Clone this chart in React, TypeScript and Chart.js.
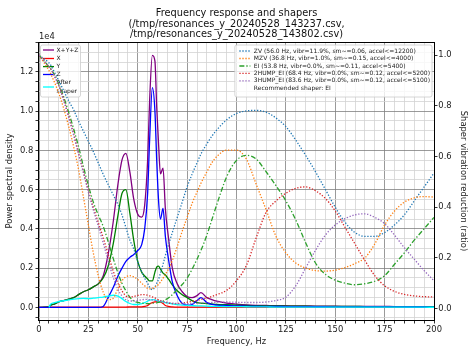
import React, { useEffect, useRef } from 'react';
import { Chart, registerables } from 'chart.js';

Chart.register(...registerables);

const FONT = '"DejaVu Sans", "Liberation Sans", sans-serif';

const titleLines = [
  'Frequency response and shapers',
  '(/tmp/resonances_y_20240528_143237.csv,',
  '/tmp/resonances_y_20240528_143802.csv)',
];

// Power spectral density values are plotted in units of 1e4 (matplotlib offset text "1e4")
const PSD_UNIT = 1e4;

const freqs = [0, 5, 6, 8, 10, 12.5, 15, 17.5, 20, 22.5, 25, 27.5, 30, 32.5, 35, 37.5, 40, 42, 44, 46,
  48, 50, 52, 53.5, 55, 56, 57.4, 58.7, 59.6, 60.5, 61.5, 62.8, 64, 65.5, 67.5, 70, 72.5, 75, 77.5, 80,
  82, 85, 87.5, 90, 95, 100, 105, 110, 115, 120, 125, 130, 135, 140, 145, 150, 155, 160, 165, 170,
  175, 180, 185, 190, 195, 200];

const psdSum = [0, 30, 120, 180, 280, 350, 420, 500, 650, 800, 900, 1050, 1200, 1600, 2700, 4300, 6300, 7500, 7850, 6900,
  5500, 4750, 4600, 5200, 7500, 10500, 12840, 12550, 10200, 8400, 6800, 7100, 5000, 3600, 2000, 1200, 800, 550, 500, 600,
  750, 500, 400, 320, 220, 170, 130, 110, 100, 90, 85, 80, 75, 70, 65, 60, 58, 55, 52, 50,
  48, 46, 44, 42, 40, 38];

const psdX = [0, 20, 20, 20, 20, 20, 20, 20, 20, 20, 20, 20, 20, 20, 20, 20, 20, 20, 20, 25,
  25, 30, 30, 50, 100, 180, 250, 280, 300, 300, 280, 200, 100, 50, 30, 20, 20, 20, 20, 20,
  20, 20, 20, 20, 20, 20, 20, 20, 20, 20, 20, 20, 20, 20, 20, 20, 20, 20, 20, 20,
  20, 20, 20, 20, 20, 20];

const psdY = [0, 30, 120, 180, 280, 350, 420, 500, 650, 800, 900, 1050, 1200, 1500, 2100, 3200, 4700, 5800, 6000, 4800,
  3400, 2350, 1800, 1600, 1450, 1350, 1350, 1800, 2050, 2100, 1950, 1750, 1650, 1450, 1150, 850, 650, 500, 350, 250,
  220, 200, 180, 160, 140, 120, 100, 90, 80, 75, 70, 65, 60, 58, 55, 52, 50, 48, 46, 44,
  42, 40, 38, 36, 35, 34];

const psdZ = [0, 0, 0, 0, 0, 0, 0, 0, 0, 0, 0, 0, 0, 50, 500, 1000, 1600, 2000, 2350, 2550,
  2700, 2900, 3200, 4000, 5800, 8500, 11200, 10000, 7500, 5500, 4500, 5050, 3600, 2500, 1300, 600, 200, 120, 150, 350,
  500, 250, 150, 120, 100, 80, 70, 60, 55, 50, 45, 40, 38, 36, 34, 32, 30, 28, 27, 26,
  25, 24, 23, 22, 21, 20];

const afterShaper = [null, 0, 180, 240, 300, 340, 380, 420, 450, 460, 450, 470, 500, 530, 580, 620, 580, 450, 300, 200,
  150, 150, 200, 250, 320, 370, 400, 380, 350, 320, 300, 280, 250, 220, 180, 140, 120, 100, 90, 80,
  75, 65, 55, 50, 45, 40, 35, 30, 25, 20, 20, 18, 18, 16, 16, 15, 15, 14, 14, 13,
  13, 12, 12, 11, 11, 10];

const zv = [1.0, 0.97, 0.96, 0.93, 0.9, 0.86, 0.82, 0.785, 0.74, 0.70, 0.66, 0.62, 0.575, 0.53, 0.49, 0.45, 0.41, 0.37, 0.32, 0.27,
  0.235, 0.185, 0.145, 0.12, 0.10, 0.085, 0.075, 0.085, 0.10, 0.115, 0.14, 0.175, 0.21, 0.25, 0.30, 0.36, 0.42, 0.48, 0.53, 0.575,
  0.61, 0.65, 0.68, 0.705, 0.745, 0.77, 0.78, 0.782, 0.775, 0.752, 0.718, 0.665, 0.605, 0.54, 0.47, 0.40, 0.34, 0.30, 0.285, 0.285,
  0.30, 0.33, 0.37, 0.425, 0.48, 0.535];

const mzv = [1.0, 0.94, 0.925, 0.89, 0.85, 0.79, 0.72, 0.64, 0.55, 0.44, 0.33, 0.22, 0.13, 0.065, 0.035, 0.04, 0.08, 0.11, 0.125, 0.13,
  0.125, 0.115, 0.10, 0.09, 0.08, 0.078, 0.08, 0.085, 0.09, 0.095, 0.105, 0.12, 0.135, 0.155, 0.19, 0.245, 0.305, 0.36, 0.415, 0.46,
  0.495, 0.54, 0.575, 0.60, 0.625, 0.625, 0.59, 0.49, 0.39, 0.285, 0.22, 0.18, 0.16, 0.15, 0.148, 0.152, 0.162, 0.178, 0.20, 0.255,
  0.33, 0.385, 0.42, 0.437, 0.442, 0.44];

const ei = [1.0, 0.955, 0.945, 0.92, 0.885, 0.835, 0.775, 0.71, 0.64, 0.56, 0.485, 0.42, 0.37, 0.325, 0.265, 0.2, 0.14, 0.1, 0.07, 0.045,
  0.03, 0.025, 0.022, 0.02, 0.02, 0.02, 0.021, 0.022, 0.023, 0.025, 0.027, 0.03, 0.035, 0.042, 0.055, 0.075, 0.095, 0.12, 0.155, 0.195,
  0.23, 0.29, 0.35, 0.41, 0.52, 0.585, 0.605, 0.59, 0.54, 0.485, 0.425, 0.35, 0.26, 0.18, 0.135, 0.112, 0.1, 0.094, 0.098, 0.108,
  0.13, 0.175, 0.22, 0.27, 0.315, 0.36];

const hump2 = [1.0, 0.955, 0.945, 0.915, 0.88, 0.825, 0.76, 0.69, 0.615, 0.54, 0.465, 0.4, 0.34, 0.28, 0.215, 0.15, 0.1, 0.07, 0.05, 0.045,
  0.048, 0.052, 0.055, 0.055, 0.053, 0.05, 0.046, 0.042, 0.038, 0.035, 0.032, 0.028, 0.025, 0.022, 0.02, 0.02, 0.022, 0.025, 0.028, 0.032,
  0.036, 0.042, 0.048, 0.055, 0.072, 0.11, 0.17, 0.28, 0.38, 0.425, 0.455, 0.475, 0.48, 0.465, 0.435, 0.385, 0.32, 0.255, 0.19, 0.13,
  0.09, 0.068, 0.056, 0.05, 0.047, 0.046];

const hump3 = [1.0, 0.955, 0.945, 0.915, 0.88, 0.82, 0.755, 0.685, 0.61, 0.535, 0.46, 0.39, 0.325, 0.26, 0.19, 0.125, 0.075, 0.05, 0.035, 0.03,
  0.03, 0.032, 0.035, 0.036, 0.036, 0.035, 0.034, 0.033, 0.032, 0.031, 0.03, 0.028, 0.026, 0.024, 0.022, 0.02, 0.02, 0.02, 0.02, 0.021,
  0.022, 0.023, 0.024, 0.025, 0.026, 0.025, 0.024, 0.024, 0.026, 0.032, 0.045, 0.09, 0.16, 0.23, 0.29, 0.33, 0.355, 0.37, 0.374, 0.36,
  0.335, 0.29, 0.24, 0.195, 0.15, 0.11];

const psdLabels = ['X+Y+Z', 'X', 'Y', 'Z', 'After\nshaper'];
const psdColors = ['purple', 'red', 'green', 'blue', 'cyan'];
const shaperLabels = [
  'ZV (56.0 Hz, vibr=11.9%, sm~=0.06, accel<=12200)',
  'MZV (36.8 Hz, vibr=1.0%, sm~=0.15, accel<=4000)',
  'EI (53.8 Hz, vibr=0.0%, sm~=0.11, accel<=5400)',
  '2HUMP_EI (68.4 Hz, vibr=0.0%, sm~=0.12, accel<=5200)',
  '3HUMP_EI (83.6 Hz, vibr=0.0%, sm~=0.12, accel<=5100)',
];
const shaperColors = ['#1f77b4', '#ff7f0e', '#2ca02c', '#d62728', '#9467bd'];
const recommendedText = 'Recommended shaper: EI';
const offsetText = '1e4';

const DOT = [1.3, 1.7];
const DASHDOT = [5, 2, 1.3, 2];

const toPts = (ys: (number | null)[], unit = 1) =>
  freqs.map((f, i) => ({ x: f, y: ys[i] === null ? null : (ys[i] as number) / unit }));

const LEG_FONT = '6px ' + FONT;

function drawBox(ctx: CanvasRenderingContext2D, x: number, y: number, w: number, h: number) {
  ctx.save();
  ctx.beginPath();
  (ctx as any).roundRect(x, y, w, h, 2);
  ctx.fillStyle = 'rgba(255,255,255,0.8)';
  ctx.fill();
  ctx.strokeStyle = '#cccccc';
  ctx.lineWidth = 0.8;
  ctx.stroke();
  ctx.restore();
}

function drawHandle(ctx: CanvasRenderingContext2D, x1: number, x2: number, y: number, color: string, dash: number[]) {
  ctx.save();
  ctx.beginPath();
  ctx.setLineDash(dash);
  ctx.strokeStyle = color;
  ctx.lineWidth = 1.3;
  ctx.moveTo(x1, y);
  ctx.lineTo(x2, y);
  ctx.stroke();
  ctx.restore();
}

const mplPlugin = {
  id: 'mplExtras',
  afterDatasetDraw(chart: any, args: any) {
    if (args.index !== 4) return;
    const ctx: CanvasRenderingContext2D = chart.ctx;
    const ca = chart.chartArea;
    const bx = ca.left + 1.5;
    const by = ca.top + 3;
    drawBox(ctx, bx, by, 40, 52);
    ctx.save();
    ctx.font = LEG_FONT;
    ctx.fillStyle = '#222';
    ctx.textBaseline = 'middle';
    ctx.textAlign = 'left';
    const rows = [8, 16.5, 24.6, 32.5];
    for (let i = 0; i < 4; i++) {
      drawHandle(ctx, bx + 2.5, bx + 13.5, ca.top + rows[i], psdColors[i], []);
      ctx.fillText(psdLabels[i], bx + 16, ca.top + rows[i]);
    }
    const parts = psdLabels[4].split('\n');
    drawHandle(ctx, bx + 2.5, bx + 13.5, ca.top + 45, psdColors[4], []);
    ctx.fillText(parts[0], bx + 16, ca.top + 40.8);
    ctx.fillText(parts[1], bx + 16, ca.top + 49.4);
    ctx.restore();
  },
  afterDatasetsDraw(chart: any) {
    const ctx: CanvasRenderingContext2D = chart.ctx;
    const ca = chart.chartArea;
    ctx.save();
    ctx.font = LEG_FONT;
    let maxW = 0;
    for (const l of shaperLabels) maxW = Math.max(maxW, ctx.measureText(l).width);
    const w = maxW + 21;
    const bx = ca.right - 2 - w;
    const by = ca.top + 3;
    drawBox(ctx, bx, by, w, 52);
    ctx.fillStyle = '#222';
    ctx.textBaseline = 'middle';
    ctx.textAlign = 'left';
    const rows = [9, 16.5, 24, 31.4, 38.8];
    for (let i = 0; i < 5; i++) {
      drawHandle(ctx, bx + 4.5, bx + 15.5, ca.top + rows[i], shaperColors[i], i === 2 ? DASHDOT : DOT);
      ctx.fillText(shaperLabels[i], bx + 19, ca.top + rows[i]);
    }
    ctx.fillText(recommendedText, bx + 19, ca.top + 46.3);
    ctx.restore();
  },
  afterDraw(chart: any) {
    const ctx: CanvasRenderingContext2D = chart.ctx;
    const ca = chart.chartArea;
    ctx.save();
    ctx.strokeStyle = '#000';
    ctx.lineWidth = 1;
    ctx.strokeRect(ca.left - 0.5, ca.top + 0.5, ca.right - ca.left + 1, ca.bottom - ca.top);
    ctx.fillStyle = '#111';
    ctx.textAlign = 'center';
    ctx.textBaseline = 'middle';
    ctx.font = '9.8px ' + FONT;
    const cx = (ca.left + ca.right) / 2;
    const ys = [13.3, 24, 34.6];
    titleLines.forEach((t, i) => ctx.fillText(t, cx, ys[i]));
    ctx.textAlign = 'left';
    ctx.font = '8.4px ' + FONT;
    ctx.fillStyle = '#222';
    ctx.fillText(offsetText, ca.left, ca.top - 5);
    ctx.restore();
  },
};

export default function App() {
  const ref = useRef<HTMLCanvasElement | null>(null);
  useEffect(() => {
    if (!ref.current) return;
    const psdSeries = [psdSum, psdX, psdY, psdZ, afterShaper];
    const shaperSeries = [zv, mzv, ei, hump2, hump3];
    const datasets: any[] = [];
    psdSeries.forEach((s, i) => {
      datasets.push({
        label: psdLabels[i],
        data: toPts(s, PSD_UNIT),
        borderColor: psdColors[i],
        backgroundColor: psdColors[i],
        borderWidth: 1.3,
        pointRadius: 0,
        cubicInterpolationMode: 'monotone',
        yAxisID: 'y',
        order: 20 - i,
      });
    });
    shaperSeries.forEach((s, i) => {
      datasets.push({
        label: shaperLabels[i],
        data: toPts(s),
        borderColor: shaperColors[i],
        backgroundColor: shaperColors[i],
        borderWidth: 1.3,
        borderDash: i === 2 ? DASHDOT : DOT,
        pointRadius: 0,
        cubicInterpolationMode: 'monotone',
        yAxisID: 'y2',
        order: 10 - i,
      });
    });
    const tickFont = { family: FONT, size: 8.4 };
    const chart = new Chart(ref.current, {
      type: 'line',
      data: { datasets },
      plugins: [mplPlugin],
      options: {
        animation: false,
        responsive: false,
        devicePixelRatio: 1,
        layout: { padding: { top: 42, left: 0, right: 0, bottom: 0 } },
        plugins: { legend: { display: false }, tooltip: { enabled: false }, title: { display: false } },
        scales: {
          x: {
            type: 'linear',
            min: 0,
            max: 200,
            position: 'bottom',
            afterFit: (s: any) => { s.height = 35; },
            border: { display: false },
            grid: {
              color: (c: any) => (c.tick && Math.round(c.tick.value) % 25 === 0 ? '#808080' : '#d3d3d3'),
              lineWidth: 0.8,
              tickLength: 3.5,
              tickColor: '#000',
              tickWidth: 0.8,
            },
            ticks: {
              stepSize: 5,
              autoSkip: false,
              maxRotation: 0,
              padding: 0.8,
              color: '#222',
              font: tickFont,
              callback: (v: any) => (Math.round(v) % 25 === 0 ? String(Math.round(v)) : ''),
            },
            title: { display: true, text: 'Frequency, Hz', color: '#222', font: { family: FONT, size: 8.4 }, padding: { top: 0, bottom: 7.9 } },
          },
          y: {
            type: 'linear',
            position: 'left',
            min: -0.064,
            max: 1.352,
            afterFit: (s: any) => { s.width = 39; },
            border: { display: false },
            grid: {
              color: (c: any) => (c.tick && Math.round(c.tick.value * 100) % 20 === 0 ? '#808080' : '#d3d3d3'),
              lineWidth: 0.8,
              tickLength: 3.5,
              tickColor: '#000',
              tickWidth: 0.8,
            },
            ticks: {
              stepSize: 0.05,
              includeBounds: false,
              autoSkip: false,
              padding: 2.2,
              color: '#222',
              font: tickFont,
              callback: (v: any) => (Math.round(v * 100) % 20 === 0 ? Number(v).toFixed(1) : ''),
            },
            title: { display: true, text: 'Power spectral density', color: '#222', font: { family: FONT, size: 8.4 }, padding: { top: 4.9, bottom: 0 } },
          },
          y2: {
            type: 'linear',
            position: 'right',
            min: -0.045,
            max: 1.052,
            afterFit: (s: any) => { s.width = 40; },
            border: { display: false },
            grid: { drawOnChartArea: false, tickLength: 3.5, tickColor: '#000', tickWidth: 0.8 },
            ticks: {
              stepSize: 0.2,
              includeBounds: false,
              padding: 0.8,
              color: '#222',
              font: tickFont,
              callback: (v: any) => Number(v).toFixed(1),
            },
            title: { display: true, text: 'Shaper vibration reduction (ratio)', color: '#222', font: { family: FONT, size: 8.4 }, padding: { top: 5.4, bottom: 0 } },
          },
        },
      } as any,
    });
    return () => chart.destroy();
  }, []);
  return (
    <div style={{ position: 'absolute', left: 0, top: 0, width: 474, height: 355, background: '#fff' }}>
      <canvas ref={ref} width={474} height={355} style={{ display: 'block' }} />
    </div>
  );
}
